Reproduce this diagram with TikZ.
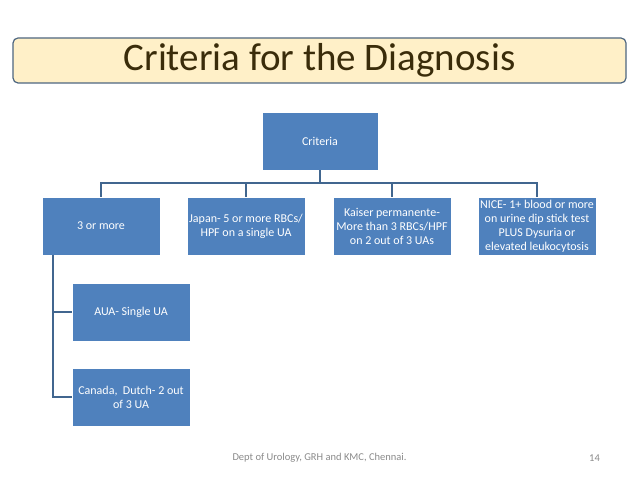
\documentclass[tikz,border=0pt]{standalone}
\usepackage{fontspec}
\setmainfont{Carlito}
\definecolor{boxblue}{HTML}{4F81BD}
\definecolor{linkblue}{HTML}{41668F}
\definecolor{titlefill}{HTML}{FFF0C8}
\definecolor{titleedge}{HTML}{4D6680}
\definecolor{titletext}{HTML}{3A2C0A}
\definecolor{footgray}{HTML}{8A8A8A}
\begin{document}
\begin{tikzpicture}[x=1pt, y=-1pt]
    \tikzset{blk/.style={draw=white, line width=0.6pt, fill=boxblue, text=white,
               minimum width=118pt, minimum height=58pt, inner sep=0pt,
               align=center, font=\fontsize{12}{14}\selectfont},
             link/.style={draw=linkblue, line width=1.6pt}}
    \useasboundingbox (0,0) rectangle (638,478);
    % title
    \node[draw=titleedge, line width=1.2pt, fill=titlefill, rounded corners=5pt,
          minimum width=613pt, minimum height=45pt, text=titletext,
          font=\fontsize{39}{44}\selectfont] (title) at (319.5,60.5) {Criteria for the Diagnosis};
    % top box and first row
    \node[blk, minimum width=116pt] (crit) at (320,141) {Criteria};
    \foreach \txt/\xx [count=\i] in {{3 or more}/101,
        {Japan- 5 or more RBCs/\\HPF on a single UA}/246,
        {Kaiser permanente-\\More than 3 RBCs/HPF\\on 2 out of 3 UAs}/392,
        {NICE- 1+ blood or more\\on urine dip stick test\\PLUS Dysuria or\\elevated leukocytosis}/537} {
      \node[blk] (b\i) at (\xx,226) {\txt};
    }
    \coordinate (bus) at (320,183);
    \foreach \i in {1,...,4}
      \draw[link] (crit.south) -- (bus) -| (b\i.north);
    % second level under "3 or more"
    \node[blk] (aua) at (131,312) {AUA- Single UA};
    \node[blk] (can) at (131,397) {Canada,\ \ Dutch- 2 out\\of 3 UA};
    \coordinate (side) at (53,255);
    \draw[link] (side) |- (aua.west);
    \draw[link] (side) |- (can.west);
    % footer
    \node[text=footgray, font=\fontsize{10.5}{12}\selectfont] (foot) at (319.5,458) {Dept of Urology, GRH and KMC, Chennai.};
    \node[text=footgray, font=\fontsize{10.5}{12}\selectfont] (page) at (594.5,458) {14};
\end{tikzpicture}
\end{document}
